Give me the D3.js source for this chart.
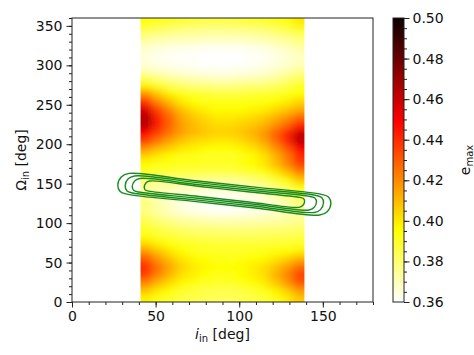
<!DOCTYPE html>
<html><head><meta charset="utf-8">
<script src="https://cdn.jsdelivr.net/npm/d3@7"></script>
<style>
body{margin:0;background:#fff;}
text{font-family:"DejaVu Sans",sans-serif;}
</style></head><body>
<svg id="c" width="474" height="355"></svg>
<script>
// ---- data ----
const iEdges = [41,48,55,62,69,76,83,90,97,104,111,118,125,132,139];
const omegaEdges = [0,10,20,30,40,50,60,70,80,90,100,110,120,130,140,150,160,170,180,190,200,210,220,230,240,250,260,270,280,290,300,310,320,330,340,350,360];
const emax = [
[.398,.393,.390,.386,.385,.384,.383,.383,.384,.386,.388,.393,.399,.407],
[.408,.400,.395,.390,.388,.386,.385,.385,.386,.389,.392,.398,.406,.417],
[.422,.411,.403,.397,.394,.391,.390,.390,.392,.395,.399,.407,.417,.431],
[.435,.421,.411,.402,.398,.395,.393,.393,.395,.398,.402,.411,.421,.435],
[.440,.425,.414,.405,.400,.397,.395,.395,.396,.399,.402,.408,.416,.427],
[.431,.418,.409,.401,.397,.395,.393,.393,.394,.395,.397,.401,.406,.413],
[.417,.408,.401,.396,.393,.391,.390,.390,.390,.391,.392,.394,.396,.399],
[.403,.398,.394,.391,.390,.389,.388,.388,.388,.388,.388,.389,.389,.390],
[.394,.390,.388,.385,.384,.383,.383,.383,.383,.383,.383,.384,.384,.385],
[.389,.385,.382,.380,.378,.378,.377,.377,.377,.377,.378,.378,.379,.380],
[.384,.379,.376,.373,.372,.371,.370,.370,.370,.371,.371,.372,.373,.375],
[.378,.373,.369,.366,.364,.363,.362,.362,.363,.363,.365,.367,.370,.374],
[.378,.372,.368,.364,.362,.361,.360,.360,.361,.362,.364,.368,.372,.378],
[.374,.370,.367,.365,.363,.363,.362,.362,.363,.364,.367,.371,.376,.383],
[.374,.372,.371,.369,.369,.368,.368,.368,.369,.371,.373,.378,.384,.392],
[.380,.378,.377,.376,.376,.375,.375,.375,.376,.379,.382,.388,.396,.407],
[.390,.388,.387,.386,.386,.385,.385,.385,.387,.389,.393,.400,.409,.421],
[.395,.393,.392,.391,.391,.390,.390,.390,.392,.395,.400,.409,.420,.435],
[.404,.399,.396,.393,.392,.391,.390,.390,.392,.396,.401,.411,.423,.440],
[.418,.410,.405,.400,.398,.396,.395,.395,.397,.401,.407,.418,.431,.449],
[.436,.424,.415,.408,.404,.402,.400,.400,.403,.407,.414,.427,.442,.463],
[.450,.435,.424,.415,.410,.407,.405,.405,.407,.411,.417,.428,.441,.459],
[.463,.443,.428,.416,.410,.406,.403,.403,.405,.407,.411,.419,.428,.441],
[.465,.442,.427,.414,.407,.403,.400,.400,.401,.403,.406,.411,.418,.427],
[.456,.434,.420,.408,.402,.398,.396,.396,.396,.397,.399,.403,.407,.413],
[.437,.420,.409,.400,.395,.393,.392,.392,.392,.393,.394,.396,.399,.404],
[.418,.406,.398,.393,.390,.388,.387,.387,.387,.388,.389,.390,.392,.395],
[.398,.390,.385,.381,.379,.378,.377,.377,.378,.379,.380,.382,.385,.390],
[.383,.378,.374,.371,.370,.369,.368,.368,.369,.370,.371,.374,.378,.383],
[.369,.367,.365,.364,.363,.362,.362,.362,.363,.363,.365,.367,.370,.374],
[.365,.363,.362,.361,.361,.360,.360,.360,.360,.361,.362,.364,.366,.369],
[.365,.363,.362,.361,.361,.360,.360,.360,.360,.361,.362,.364,.366,.369],
[.368,.366,.365,.364,.364,.363,.363,.363,.363,.364,.365,.368,.370,.374],
[.375,.373,.372,.371,.371,.370,.370,.370,.370,.371,.372,.374,.376,.379],
[.384,.381,.379,.377,.376,.375,.375,.375,.376,.377,.378,.381,.384,.389],
[.394,.391,.389,.387,.386,.385,.385,.385,.386,.387,.388,.391,.394,.400]
];
// contour lines, [i_in, Omega_in] points, inner to outer
const contour1 = [[46.4,153.3],[76.4,146.4],[106.4,139.4],[136.3,132.6],[138.4,131.2],[139.1,127.7],[138.0,122.3],[135.8,120.0],[105.8,126.8],[75.9,133.8],[45.9,140.6],[43.8,142.0],[43.2,145.5],[44.2,150.9]];
const contour2 = [[40.6,156.6],[74.5,149.0],[108.4,141.4],[142.3,133.8],[145.2,131.8],[146.2,126.7],[144.7,119.7],[141.6,116.6],[107.7,124.3],[73.8,131.9],[39.9,139.4],[37.0,141.4],[36.0,146.5],[37.5,153.5]];
const contour3 = [[37.4,159.8],[73.5,151.6],[109.6,143.4],[145.8,135.1],[149.3,132.4],[150.4,125.8],[148.6,117.1],[144.9,113.5],[108.7,121.6],[72.6,129.8],[36.4,138.1],[32.9,140.8],[31.8,147.4],[33.6,156.1]];
const contour4 = [[34.1,163.0],[72.5,154.1],[110.8,145.3],[149.2,136.5],[153.4,133.0],[154.8,124.8],[152.6,114.4],[148.1,110.2],[109.7,119.1],[71.4,127.9],[33.0,136.7],[28.8,140.2],[27.4,148.4],[29.6,158.8]];
const xTicks = [0,50,100,150];
const yTicks = [0,50,100,150,200,250,300,350];
const cTicks = [0.36,0.38,0.40,0.42,0.44,0.46,0.48,0.50];
const xDomain = [0,180], yDomain = [0,360], cDomain = [0.36,0.50];

// ---- matplotlib "hot" reversed ----
function hot(v){
  v = Math.max(0, Math.min(1, v));
  const r = v < 0.365079 ? 0.0416 + (1-0.0416)*v/0.365079 : 1;
  const g = v < 0.365079 ? 0 : (v < 0.746032 ? (v-0.365079)/(0.746032-0.365079) : 1);
  const b = v < 0.746032 ? 0 : (v-0.746032)/(1-0.746032);
  return d3.rgb(r*255, g*255, b*255).formatHex();
}
const hotR = t => hot(1 - t);

const svg = d3.select("#c");
const L=72, R=373, T=18, B=302;
const x = d3.scaleLinear().domain(xDomain).range([L,R]);
const y = d3.scaleLinear().domain(yDomain).range([B,T]);
const color = d3.scaleSequential(hotR).domain(cDomain);

const defs = svg.append("defs");
defs.append("clipPath").attr("id","dataclip").append("rect")
  .attr("x", x(iEdges[0])).attr("y", y(omegaEdges[omegaEdges.length-1]))
  .attr("width", x(iEdges[iEdges.length-1]) - x(iEdges[0]))
  .attr("height", y(omegaEdges[0]) - y(omegaEdges[omegaEdges.length-1]));
defs.append("filter").attr("id","smooth").attr("filterUnits","userSpaceOnUse")
  .attr("x",0).attr("y",0).attr("width",474).attr("height",355)
  .append("feGaussianBlur").attr("stdDeviation","4.5 3.2");

// heatmap
const cells = [];
emax.forEach((row, r) => row.forEach((v, k) => cells.push({r, k, v})));
const nR = emax.length, nC = emax[0].length, pad = 16;
svg.append("g").attr("clip-path","url(#dataclip)")
  .append("g").attr("filter","url(#smooth)")
  .selectAll("rect").data(cells).join("rect")
  .attr("x", d => x(iEdges[d.k]) - (d.k===0 ? pad : 0))
  .attr("width", d => x(iEdges[d.k+1]) - x(iEdges[d.k]) + 0.6 + (d.k===0 ? pad : 0) + (d.k===nC-1 ? pad : 0))
  .attr("y", d => y(omegaEdges[d.r+1]) - (d.r===nR-1 ? pad : 0))
  .attr("height", d => y(omegaEdges[d.r]) - y(omegaEdges[d.r+1]) + 0.6 + (d.r===0 ? pad : 0) + (d.r===nR-1 ? pad : 0))
  .attr("fill", d => color(d.v));

// contours
const line = d3.line().x(d => x(d[0])).y(d => y(d[1])).curve(d3.curveCatmullRomClosed.alpha(0.5));
svg.append("g").selectAll("path").data([contour1, contour2, contour3, contour4]).join("path")
  .attr("d", line).attr("fill","none").attr("stroke","#1a8a1f").attr("stroke-width",1.4);

// axes
function styleAxis(g){
  g.select(".domain").remove();
  g.selectAll("line").attr("stroke","#222").attr("stroke-width",1);
  g.selectAll("text").attr("font-size",14).attr("fill","#111").attr("font-family","DejaVu Sans");
}
svg.append("g").attr("transform",`translate(0,${B})`)
  .call(d3.axisBottom(x).tickValues(d3.range(xDomain[0], xDomain[1]+1, 10)).tickSize(3).tickFormat(""))
  .call(styleAxis);
svg.append("g").attr("transform",`translate(0,${B})`)
  .call(d3.axisBottom(x).tickValues(xTicks).tickSize(5.5).tickPadding(4).tickFormat(d3.format("d")))
  .call(styleAxis);
svg.append("g").attr("transform",`translate(${L},0)`)
  .call(d3.axisLeft(y).tickValues(d3.range(yDomain[0], yDomain[1]+1, 10)).tickSize(3).tickFormat(""))
  .call(styleAxis);
svg.append("g").attr("transform",`translate(${L},0)`)
  .call(d3.axisLeft(y).tickValues(yTicks).tickSize(5.5).tickPadding(4).tickFormat(d3.format("d")))
  .call(styleAxis);
svg.append("rect").attr("x",L).attr("y",T).attr("width",R-L).attr("height",B-T)
  .attr("fill","none").attr("stroke","#222").attr("stroke-width",1);

// axis labels
const xl = svg.append("text").attr("x",(L+R)/2).attr("y",339).attr("text-anchor","middle").attr("font-size",14).attr("fill","#111");
xl.append("tspan").attr("font-style","italic").text("i");
xl.append("tspan").attr("font-size",10).attr("dy",3).text("in");
xl.append("tspan").attr("dy",-3).text(" [deg]");
const yl = svg.append("text").attr("transform",`translate(26,${(T+B)/2}) rotate(-90)`).attr("text-anchor","middle").attr("font-size",14).attr("fill","#111");
yl.append("tspan").text("Ω");
yl.append("tspan").attr("font-size",10).attr("dy",3).text("in");
yl.append("tspan").attr("dy",-3).text(" [deg]");

// colorbar
const CX = 393, CW = 11;
const cy = d3.scaleLinear().domain(cDomain).range([B,T]);
const grad = defs.append("linearGradient").attr("id","cbg").attr("x1",0).attr("y1",1).attr("x2",0).attr("y2",0);
d3.range(0, 1.0001, 0.02).forEach(t => grad.append("stop").attr("offset", t).attr("stop-color", hotR(t)));
svg.append("rect").attr("x",CX).attr("y",cy(cDomain[1])).attr("width",CW).attr("height",cy(cDomain[0])-cy(cDomain[1])).attr("fill","url(#cbg)");
svg.append("g").attr("transform",`translate(${CX+CW},0)`)
  .call(d3.axisRight(cy).tickValues(d3.range(0, 29).map(k => cDomain[0] + k*0.005)).tickSize(3).tickFormat(""))
  .call(styleAxis);
svg.append("g").attr("transform",`translate(${CX+CW},0)`)
  .call(d3.axisRight(cy).tickValues(cTicks).tickSize(5.5).tickPadding(3).tickFormat(d3.format(".2f")))
  .call(styleAxis);
svg.append("rect").attr("x",CX).attr("y",cy(cDomain[1])).attr("width",CW).attr("height",cy(cDomain[0])-cy(cDomain[1]))
  .attr("fill","none").attr("stroke","#222").attr("stroke-width",1);
const cl = svg.append("text").attr("transform",`translate(470,${(T+B)/2}) rotate(-90)`).attr("text-anchor","middle").attr("font-size",14).attr("fill","#111");
cl.append("tspan").text("e");
cl.append("tspan").attr("font-size",10).attr("dy",3).text("max");
</script>
</body></html>
